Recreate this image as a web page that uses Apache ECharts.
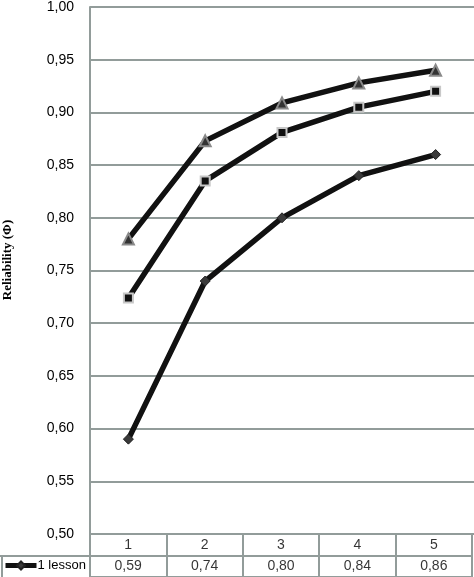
<!DOCTYPE html>
<html>
<head>
<meta charset="utf-8">
<script src="https://cdn.jsdelivr.net/npm/echarts@6/dist/echarts.min.js"></script>
<style>html,body{margin:0;padding:0;background:#fff}#c{width:474px;height:577px}</style>
</head>
<body>
<div id="c"></div>
<script>
var categories = ['1', '2', '3', '4', '5'];
var lesson1 = [0.59, 0.74, 0.80, 0.84, 0.86];
var seriesB = [0.724, 0.835, 0.881, 0.905, 0.920];
var seriesC = [0.780, 0.873, 0.909, 0.928, 0.940];
var yTicks = { min: 0.5, max: 1.0, interval: 0.05 };
var legendName = '1 lesson';
var yTitle = 'Reliability (Φ)';

var gridColor = '#929c9a';
var fmt = function (v) { return v.toFixed(2).replace('.', ','); };
var font = 'Liberation Sans';

var chart = echarts.init(document.getElementById('c'), null, { renderer: 'canvas' });
chart.setOption({
  animation: false,
  backgroundColor: '#fff',
  grid: [
    { left: 90, right: 0, top: 5, bottom: 43 },
    { left: 90, right: 2, top: 534, bottom: 0 }
  ],
  xAxis: [
    { gridIndex: 0, type: 'category', data: categories, boundaryGap: true,
      axisLine: { show: false }, axisTick: { show: false }, axisLabel: { show: false }, splitLine: { show: false } },
    { gridIndex: 1, type: 'category', data: categories, boundaryGap: true,
      axisLine: { show: false }, axisTick: { show: false }, axisLabel: { show: false },
      splitLine: { show: true, interval: 0, lineStyle: { color: gridColor, width: 2 } } }
  ],
  yAxis: [
    { gridIndex: 0, type: 'value', min: yTicks.min, max: yTicks.max, interval: yTicks.interval,
      axisLine: { show: true, lineStyle: { color: gridColor, width: 2 } },
      axisTick: { show: false },
      axisLabel: { formatter: fmt, color: '#000', fontSize: 14, fontFamily: font, margin: 16 },
      splitLine: { show: true, lineStyle: { color: gridColor, width: 2 } } },
    { gridIndex: 1, type: 'category', data: ['r', 'h'], boundaryGap: true,
      axisLine: { show: true, lineStyle: { color: gridColor, width: 2 } },
      axisTick: { show: false }, axisLabel: { show: false },
      splitLine: { show: true, interval: 0, lineStyle: { color: gridColor, width: 2 } } }
  ],
  legend: {
    data: [legendName], left: 0, top: 559, itemWidth: 31, itemHeight: 10, itemGap: 2,
    lineStyle: { width: 5, color: '#111' },
    textStyle: { color: '#000', fontSize: 13, fontFamily: font, padding: [0, 0, 0, -4] },
    padding: [0, 0, 0, 3]
  },
  graphic: [
    { type: 'line', shape: { x1: 0, y1: 556, x2: 90, y2: 556 }, style: { stroke: gridColor, lineWidth: 2 } },
    { type: 'line', shape: { x1: 2, y1: 556, x2: 2, y2: 577 }, style: { stroke: gridColor, lineWidth: 2 } },
    { type: 'text', x: 8, y: 260, rotation: Math.PI / 2, style: { text: yTitle, fill: '#000',
      font: 'bold 13px "Liberation Serif"', align: 'center', verticalAlign: 'middle' } }
  ],
  series: [
    { name: legendName, type: 'line', xAxisIndex: 0, yAxisIndex: 0, data: lesson1,
      symbol: 'diamond', symbolSize: 10,
      lineStyle: { color: '#111', width: 5.5 },
      itemStyle: { color: '#3a3a3a', borderColor: '#222', borderWidth: 1 } },
    { name: 'B', type: 'line', xAxisIndex: 0, yAxisIndex: 0, data: seriesB,
      symbol: 'rect', symbolSize: 9,
      lineStyle: { color: '#111', width: 5.5 },
      itemStyle: { color: '#111', borderColor: '#c8c8c8', borderWidth: 2 } },
    { name: 'C', type: 'line', xAxisIndex: 0, yAxisIndex: 0, data: seriesC,
      symbol: 'triangle', symbolSize: 11,
      lineStyle: { color: '#111', width: 5.5 },
      itemStyle: { color: '#333', borderColor: '#8a8a8a', borderWidth: 2 } },
    { name: 'hdr', type: 'scatter', xAxisIndex: 1, yAxisIndex: 1, symbolSize: 1,
      itemStyle: { color: 'rgba(0,0,0,0)' },
      data: categories.map(function (c, i) { return [i, 'h']; }),
      label: { show: true, position: 'inside', color: '#000', fontSize: 14, fontFamily: font,
        formatter: function (p) { return categories[p.data[0]]; } } },
    { name: 'row', type: 'scatter', xAxisIndex: 1, yAxisIndex: 1, symbolSize: 1,
      itemStyle: { color: 'rgba(0,0,0,0)' },
      data: lesson1.map(function (v, i) { return [i, 'r', v]; }),
      label: { show: true, position: 'inside', color: '#000', fontSize: 14, fontFamily: font,
        formatter: function (p) { return fmt(p.data[2]); } } }
  ]
});
</script>
</body>
</html>
